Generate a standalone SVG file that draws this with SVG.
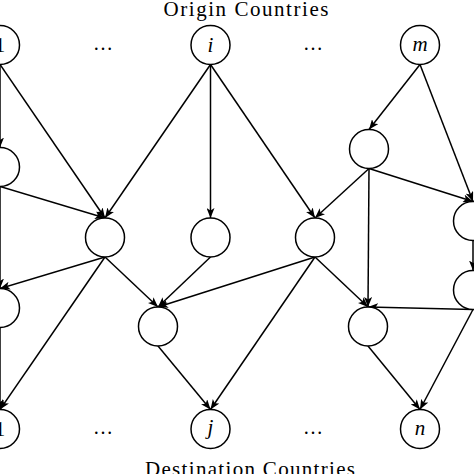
<svg xmlns="http://www.w3.org/2000/svg" width="474" height="474" viewBox="0 0 474 474">
<defs>
<marker id="ah" viewBox="0 0 10 8" refX="10" refY="4" markerWidth="10" markerHeight="8" orient="auto" markerUnits="userSpaceOnUse">
<path d="M0,0 L10,4 L0,8 L2.5,4 Z" fill="#000"/>
</marker>
</defs>
<style>
.n circle{fill:#fff;stroke:#000;stroke-width:1.5}
.e line{stroke:#000;stroke-width:1.5;marker-end:url(#ah)}
.lbl{font-family:"Liberation Serif","DejaVu Serif",serif;font-size:21px;fill:#000}
.it{font-style:italic;text-anchor:middle}
.dots{font-family:"Liberation Serif","DejaVu Serif",serif;font-size:20px;text-anchor:middle}
</style>
<rect width="474" height="474" fill="#fff"/>
<text class="lbl" x="246" y="16" text-anchor="middle" textLength="165">Origin Countries</text>
<text class="lbl" x="250" y="476" text-anchor="middle" textLength="210">Destination Countries</text>
<g class="e" id="connectors">
<line x1="0" y1="64.5" x2="0" y2="147.5"/>
<line x1="0" y1="186.5" x2="0" y2="288.5"/>
<line x1="0" y1="327.5" x2="0" y2="409.5"/>
<line x1="0" y1="64.5" x2="105" y2="218"/>
<line x1="0" y1="186.5" x2="105" y2="218"/>
<line x1="210.5" y1="64.5" x2="105" y2="218"/>
<line x1="210.5" y1="64.5" x2="210.5" y2="218"/>
<line x1="210.5" y1="64.5" x2="315" y2="218"/>
<line x1="420" y1="64.5" x2="369" y2="129.5"/>
<line x1="420" y1="64.5" x2="473" y2="201.5"/>
<line x1="369" y1="168.5" x2="315" y2="218"/>
<line x1="369" y1="168.5" x2="473" y2="201.5"/>
<line x1="369" y1="168.5" x2="368" y2="307"/>
<line x1="105" y1="257" x2="0" y2="288.5"/>
<line x1="105" y1="257" x2="0" y2="409.5"/>
<line x1="105" y1="257" x2="158" y2="307"/>
<line x1="210.5" y1="257" x2="158" y2="307"/>
<line x1="315" y1="257" x2="158" y2="307"/>
<line x1="315" y1="257" x2="210.5" y2="409.5"/>
<line x1="315" y1="257" x2="368" y2="307"/>
<line x1="158" y1="346" x2="210.5" y2="409.5"/>
<line x1="368" y1="346" x2="420" y2="409.5"/>
<line x1="473" y1="309.5" x2="420" y2="409.5"/>
<line x1="473" y1="309.5" x2="368" y2="307"/>
<line x1="473" y1="240.5" x2="473" y2="270.5"/>
</g>
<g class="n" id="o1"><circle cx="0" cy="45" r="19.5"/><text class="lbl" x="0" y="52" text-anchor="middle">1</text></g>
<g id="odots1"><text class="dots" x="103" y="50">…</text></g>
<g class="n" id="oi"><circle cx="210.5" cy="45" r="19.5"/><text class="lbl it" x="210.5" y="52">i</text></g>
<g id="odots2"><text class="dots" x="313" y="50">…</text></g>
<g class="n" id="om"><circle cx="420" cy="45" r="19.5"/><text class="lbl it" x="420" y="51">m</text></g>
<g class="n" id="L2"><circle cx="0" cy="167" r="19.5"/></g>
<g class="n" id="R2"><circle cx="369" cy="149" r="19.5"/></g>
<g class="n" id="A"><circle cx="105" cy="237.5" r="19.5"/></g>
<g class="n" id="B"><circle cx="210.5" cy="237.5" r="19.5"/></g>
<g class="n" id="C"><circle cx="315" cy="237.5" r="19.5"/></g>
<g class="n" id="R3"><circle cx="473" cy="221" r="19.5"/></g>
<g class="n" id="L4"><circle cx="0" cy="308" r="19.5"/></g>
<g class="n" id="D"><circle cx="158" cy="326.5" r="19.5"/></g>
<g class="n" id="R5"><circle cx="368" cy="326.5" r="19.5"/></g>
<g class="n" id="R4"><circle cx="473" cy="290" r="19.5"/></g>
<g class="n" id="d1"><circle cx="0" cy="429" r="19.5"/><text class="lbl" x="0" y="436" text-anchor="middle">1</text></g>
<g id="ddots1"><text class="dots" x="103" y="434">…</text></g>
<g class="n" id="dj"><circle cx="210.5" cy="429" r="19.5"/><text class="lbl it" x="210.5" y="434">j</text></g>
<g id="ddots2"><text class="dots" x="313" y="434">…</text></g>
<g class="n" id="dn"><circle cx="420" cy="429" r="19.5"/><text class="lbl it" x="420" y="435">n</text></g>
</svg>
